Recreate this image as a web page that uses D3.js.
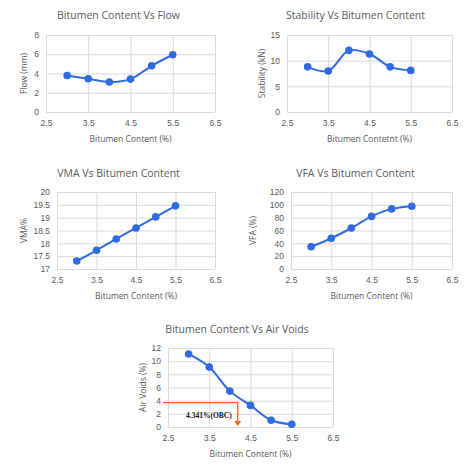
<!DOCTYPE html>
<html>
<head>
<meta charset="utf-8">
<script src="https://cdn.jsdelivr.net/npm/d3@7"></script>
<style>
  body { margin: 0; background: #fff; }
  svg { display: block; font-family: "Open Sans", sans-serif; }
  .tick text { fill: #595959; }
</style>
</head>
<body>
<div id="chart"></div>
<script>
"use strict";

// == data ==
var bitumen = [3.0, 3.5, 4.0, 4.5, 5.0, 5.5];
var flow = [3.8, 3.45, 3.12, 3.42, 4.8, 5.95];
var stability = [8.8, 8.0, 12.0, 11.3, 8.8, 8.1];
var vma = [17.31, 17.73, 18.17, 18.6, 19.03, 19.46];
var vfa = [34.7, 47.9, 63.9, 82.0, 93.7, 97.9];
var airVoids = [11.1, 9.1, 5.45, 3.28, 1.03, 0.42];

var xTicks = [2.5, 3.5, 4.5, 5.5, 6.5];
var flowTicks = [0, 2, 4, 6, 8];
var stabilityTicks = [0, 5, 10, 15];
var vmaTicks = [17, 17.5, 18, 18.5, 19, 19.5, 20];
var vfaTicks = [0, 20, 40, 60, 80, 100, 120];
var airTicks = [0, 2, 4, 6, 8, 10, 12];

var obcLevel = 3.7;
var obcValue = 4.19;
var obcLabel = "4.341%(OBC)";

var width = 474, height = 471;
var blue = "#2f6ae0", grey = "#595959", grid = "#d9d9d9", orange = "#f0641e";

var svg = d3.select("#chart").append("svg")
  .attr("width", width)
  .attr("height", height);

var panels = [
  { title: "Bitumen Content Vs Flow", xTitle: "Bitumen Content (%)", yTitle: "Flow (mm)",
    values: flow, ticks: flowTicks, fmt: d3.format("d"),
    x0: 46, x1: 215, y0: 35, y1: 112, tx: 118.5, ty: 15, yx: 23 },
  { title: "Stability Vs Bitumen Content", xTitle: "Bitumen Contetnt (%)", yTitle: "Stability (kN)",
    values: stability, ticks: stabilityTicks, fmt: d3.format("d"),
    x0: 287, x1: 452, y0: 35, y1: 112, tx: 355.5, ty: 15, yx: 261 },
  { title: "VMA Vs Bitumen Content", xTitle: "Bitumen Content (%)", yTitle: "VMA%",
    values: vma, ticks: vmaTicks, fmt: function(d) { return String(d); },
    x0: 57, x1: 215, y0: 192, y1: 269, tx: 118.5, ty: 173, yx: 23 },
  { title: "VFA Vs Bitumen Content", xTitle: "Bitumen Content (%)", yTitle: "VFA (%)",
    values: vfa, ticks: vfaTicks, fmt: d3.format("d"),
    x0: 291, x1: 452, y0: 192, y1: 269, tx: 355.5, ty: 173, yx: 252 },
  { title: "Bitumen Content Vs Air Voids", xTitle: "Bitumen Content (%)", yTitle: "Air Voids (%)",
    values: airVoids, ticks: airTicks, fmt: d3.format("d"), obc: true,
    x0: 168, x1: 333, y0: 348, y1: 427, tx: 237, ty: 329, yx: 142 }
];

panels.forEach(function(p) {
  var x = d3.scaleLinear().domain([2.5, 6.5]).range([p.x0, p.x1]);
  var y = d3.scaleLinear().domain(d3.extent(p.ticks)).range([p.y1, p.y0]);
  var g = svg.append("g");

  // horizontal grid
  g.append("g")
    .attr("transform", "translate(" + p.x0 + ",0)")
    .call(d3.axisLeft(y).tickValues(p.ticks).tickSize(-(p.x1 - p.x0)).tickFormat(p.fmt).tickPadding(7))
    .call(function(a) {
      a.select(".domain").remove();
      a.selectAll(".tick line").attr("stroke", grid);
      a.selectAll(".tick text").attr("font-size", 8.5);
    });

  // vertical grid + x labels
  g.append("g")
    .attr("transform", "translate(0," + p.y1 + ")")
    .call(d3.axisBottom(x).tickValues(xTicks).tickSize(-(p.y1 - p.y0)).tickFormat(d3.format(".1f")).tickPadding(8))
    .call(function(a) {
      a.select(".domain").remove();
      a.selectAll(".tick line").attr("stroke", grid);
      a.selectAll(".tick text").attr("font-size", 8.5);
    });

  g.append("text")
    .attr("x", p.tx).attr("y", p.ty)
    .attr("text-anchor", "middle").attr("dominant-baseline", "central")
    .attr("font-size", 10.5).attr("fill", grey)
    .text(p.title);

  g.append("text")
    .attr("x", (p.x0 + p.x1) / 2).attr("y", p.y1 + 26)
    .attr("text-anchor", "middle").attr("dominant-baseline", "central")
    .attr("font-size", 8.5).attr("fill", grey)
    .text(p.xTitle);

  g.append("text")
    .attr("transform", "translate(" + p.yx + "," + ((p.y0 + p.y1) / 2) + ") rotate(-90)")
    .attr("text-anchor", "middle").attr("dominant-baseline", "central")
    .attr("font-size", 8.5).attr("fill", grey)
    .text(p.yTitle);

  var line = d3.line()
    .x(function(d, i) { return x(bitumen[i]); })
    .y(function(d) { return y(d); })
    .curve(d3.curveCatmullRom);

  g.append("path")
    .datum(p.values)
    .attr("d", line)
    .attr("fill", "none")
    .attr("stroke", blue)
    .attr("stroke-width", 2);

  g.selectAll("circle")
    .data(p.values)
    .enter().append("circle")
    .attr("cx", function(d, i) { return x(bitumen[i]); })
    .attr("cy", function(d) { return y(d); })
    .attr("r", 3.8)
    .attr("fill", blue);

  if (p.obc) {
    var ox = x(obcValue), oy = y(obcLevel);
    g.append("path")
      .attr("d", "M" + (p.x0 - 5) + "," + oy + "H" + ox + "V" + (p.y1 - 6))
      .attr("fill", "none")
      .attr("stroke", orange)
      .attr("stroke-width", 1.3);
    g.append("path")
      .attr("d", "M" + (ox - 3.5) + "," + (p.y1 - 6) + "L" + (ox + 3.5) + "," + (p.y1 - 6) + "L" + ox + "," + (p.y1 - 1) + "Z")
      .attr("fill", orange);
    g.append("text")
      .attr("x", (p.x0 + ox) / 2 + 6).attr("y", y(1.8))
      .attr("text-anchor", "middle").attr("dominant-baseline", "central")
      .attr("font-family", "'Liberation Serif', serif")
      .attr("font-weight", "bold")
      .attr("font-size", 7.5)
      .attr("fill", "#111")
      .text(obcLabel);
  }
});
</script>
</body>
</html>
